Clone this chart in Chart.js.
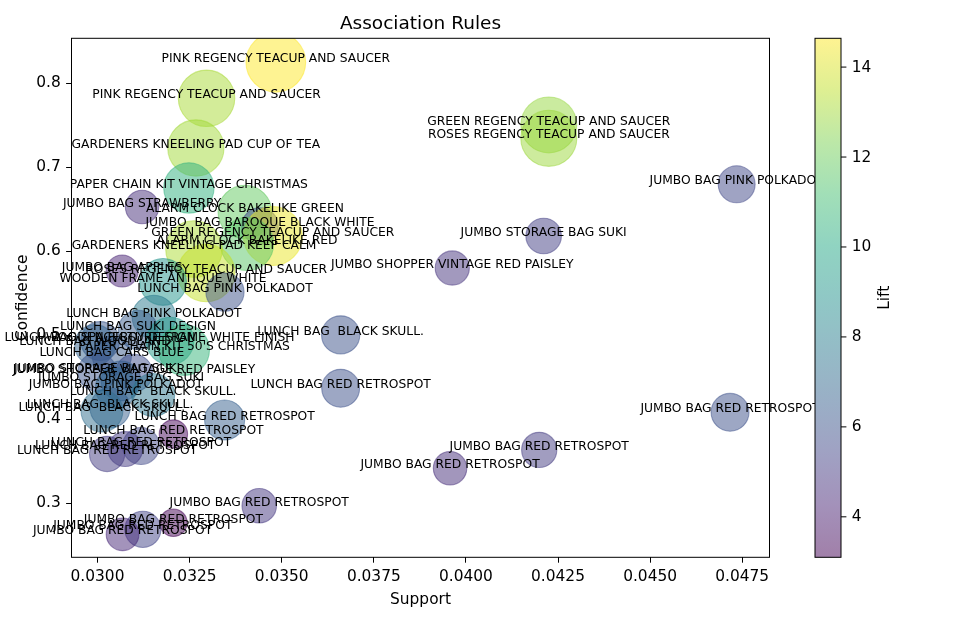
<!DOCTYPE html>
<html><head><meta charset="utf-8">
<script src="https://cdn.jsdelivr.net/npm/chart.js@4.4.1/dist/chart.umd.min.js"></script>
<style>html,body{margin:0;padding:0;background:#fff;}#wrap{width:976px;height:619px;position:relative;}</style>
</head><body><div id="wrap"><canvas id="c" width="976" height="619"></canvas></div>
<script>
// ---- data ----
const ruleLabels = [
 "PINK REGENCY TEACUP AND SAUCER","PINK REGENCY TEACUP AND SAUCER","GARDENERS KNEELING PAD CUP OF TEA",
 "GREEN REGENCY TEACUP AND SAUCER","ROSES REGENCY TEACUP AND SAUCER","JUMBO BAG PINK POLKADOT",
 "PAPER CHAIN KIT VINTAGE CHRISTMAS","JUMBO BAG STRAWBERRY","ALARM CLOCK BAKELIKE GREEN",
 "JUMBO  BAG BAROQUE BLACK WHITE","GREEN REGENCY TEACUP AND SAUCER","ALARM CLOCK BAKELIKE RED",
 "GARDENERS KNEELING PAD KEEP CALM","ROSES REGENCY TEACUP AND SAUCER","JUMBO BAG APPLES",
 "WOODEN FRAME ANTIQUE WHITE","LUNCH BAG PINK POLKADOT","JUMBO STORAGE BAG SUKI",
 "JUMBO SHOPPER VINTAGE RED PAISLEY","LUNCH BAG PINK POLKADOT","LUNCH BAG SUKI DESIGN",
 "LUNCH BAG  BLACK SKULL.","WOODEN PICTURE FRAME WHITE FINISH","LUNCH BAG SPACEBOY DESIGN",
 "LUNCH BAG WOODLAND","PAPER CHAIN KIT 50'S CHRISTMAS","LUNCH BAG CARS BLUE",
 "JUMBO STORAGE BAG SUKI","JUMBO SHOPPER VINTAGE RED PAISLEY","JUMBO STORAGE BAG SUKI",
 "JUMBO BAG PINK POLKADOT","LUNCH BAG RED RETROSPOT","LUNCH BAG  BLACK SKULL.",
 "LUNCH BAG  BLACK SKULL.","LUNCH BAG  BLACK SKULL.","JUMBO BAG RED RETROSPOT",
 "LUNCH BAG RED RETROSPOT","LUNCH BAG RED RETROSPOT","LUNCH BAG RED RETROSPOT",
 "LUNCH BAG RED RETROSPOT","LUNCH BAG RED RETROSPOT","JUMBO BAG RED RETROSPOT",
 "JUMBO BAG RED RETROSPOT","JUMBO BAG RED RETROSPOT","JUMBO BAG RED RETROSPOT",
 "JUMBO BAG RED RETROSPOT","JUMBO BAG RED RETROSPOT"
];
const support = [
 0.03484,0.03296,0.03267,
 0.04225,0.04225,0.04735,
 0.03248,0.03121,0.03400,
 0.03441,0.03476,0.03406,
 0.03262,0.03295,0.03067,
 0.03178,0.03346,0.04211,
 0.03963,0.03153,0.03110,
 0.03660,0.03197,0.03007,
 0.02993,0.03235,0.03039,
 0.02999,0.03099,0.03064,
 0.03050,0.03660,0.03151,
 0.03034,0.03012,0.04717,
 0.03345,0.03206,0.03118,
 0.03075,0.03026,0.04199,
 0.03957,0.03439,0.03206,
 0.03123,0.03068
];
const confidence = [
 0.8250,0.7821,0.7230,
 0.7504,0.7345,0.6798,
 0.6754,0.6527,0.6468,
 0.6301,0.6182,0.6087,
 0.6027,0.5742,0.5765,
 0.5635,0.5515,0.6182,
 0.5801,0.5218,0.5063,
 0.5004,0.4932,0.4932,
 0.4885,0.4825,0.4754,
 0.4563,0.4551,0.4456,
 0.4373,0.4369,0.4289,
 0.4135,0.4099,0.4083,
 0.3992,0.3825,0.3682,
 0.3646,0.3587,0.3635,
 0.3417,0.2971,0.2769,
 0.2690,0.2631
];
const lift = [
 14.64,13.1,13.0,
 12.8,12.9,5.6,
 10.4,4.6,11.8,
 5.5,14.3,11.6,
 13.2,13.6,4.2,
 9.0,6.0,5.2,
 4.8,7.8,6.4,
 6.0,9.3,6.2,
 6.8,10.6,6.3,
 6.1,5.7,6.5,
 6.9,5.9,7.6,
 6.6,7.2,5.9,
 6.6,3.3,5.6,
 5.0,5.1,5.1,
 4.6,4.9,3.10,
 5.4,4.4
];
const xTicks = [0.0300,0.0325,0.0350,0.0375,0.0400,0.0425,0.0450,0.0475];
const yTicks = [0.3,0.4,0.5,0.6,0.7,0.8];
const liftTicks = [4,6,8,10,12,14];
const xRange = [0.029294, 0.048241];
const yRange = [0.23571, 0.85357];

// ---- styling ----
const FONT = "'DejaVu Sans', sans-serif";
const VIRIDIS = [[68,1,84],[72,36,117],[65,68,135],[53,95,141],[42,120,142],[33,145,140],[34,168,132],[68,191,112],[122,209,81],[189,223,38],[253,231,37]];
function viridis(t){t=Math.max(0,Math.min(1,t));const s=t*10;const i=Math.min(9,Math.floor(s));const f=s-i;const a=VIRIDIS[i],b=VIRIDIS[i+1];return [0,1,2].map(k=>Math.round(a[k]+(b[k]-a[k])*f));}
const lmin = Math.min(...lift), lmax = Math.max(...lift);
function liftColor(v,alpha){const c=viridis((v-lmin)/(lmax-lmin));return `rgba(${c[0]},${c[1]},${c[2]},${alpha})`;}

const points = support.map((s,i)=>({x:s,y:confidence[i],r:7.8*Math.sqrt(lift[i]),lift:lift[i],label:ruleLabels[i]}));

const overlay = {
  id:'overlay',
  afterDatasetsDraw(chart){
    const {ctx, chartArea:a, scales:{x,y}} = chart;
    ctx.save();
    ctx.strokeStyle='#000'; ctx.lineWidth=1;
    ctx.strokeRect(a.left, a.top, a.right-a.left, a.bottom-a.top);
    ctx.fillStyle='#000';
    ctx.font=`12.3px ${FONT}`; ctx.textAlign='center'; ctx.textBaseline='alphabetic';
    points.forEach(p=>ctx.fillText(p.label, x.getPixelForValue(p.x), y.getPixelForValue(p.y)));
    // title and axis titles
    ctx.font=`18.5px ${FONT}`;
    ctx.fillText('Association Rules',(a.left+a.right)/2,29);
    ctx.font=`15.4px ${FONT}`;
    ctx.fillText('Support',(a.left+a.right)/2,604);
    ctx.save(); ctx.translate(27,(a.top+a.bottom)/2); ctx.rotate(-Math.PI/2);
    ctx.fillText('Confidence',0,0); ctx.restore();
    ctx.restore();
  },
  afterDraw(chart){
    const {ctx, chartArea:a} = chart;
    const L=815, R=841, T=a.top, B=a.bottom;
    ctx.save();
    ctx.fillStyle='#fff'; ctx.fillRect(L,T,R-L,B-T);
    const g=ctx.createLinearGradient(0,B,0,T);
    for(let k=0;k<=40;k++){const c=viridis(k/40);g.addColorStop(k/40,`rgba(${c[0]},${c[1]},${c[2]},0.5)`);}
    ctx.fillStyle=g; ctx.fillRect(L,T,R-L,B-T);
    ctx.strokeStyle='#000'; ctx.lineWidth=1; ctx.strokeRect(L,T,R-L,B-T);
    ctx.fillStyle='#000'; ctx.font=`15.4px ${FONT}`; ctx.textAlign='left'; ctx.textBaseline='middle';
    liftTicks.forEach(v=>{
      const yy=B-(v-lmin)/(lmax-lmin)*(B-T);
      ctx.beginPath(); ctx.moveTo(R,yy); ctx.lineTo(R+5.4,yy); ctx.stroke();
      ctx.fillText(String(v),R+10.8,yy+0.5);
    });
    ctx.textAlign='center'; ctx.textBaseline='alphabetic';
    ctx.translate(889,(T+B)/2); ctx.rotate(-Math.PI/2); ctx.fillText('Lift',0,0);
    ctx.restore();
  }
};

new Chart(document.getElementById('c'),{
  type:'bubble',
  data:{datasets:[{
    data:points,
    backgroundColor:c=>c.raw?liftColor(c.raw.lift,0.5):'rgba(0,0,0,0)',
    borderColor:c=>c.raw?liftColor(c.raw.lift,0.5):'rgba(0,0,0,0)',
    borderWidth:1.1,
    clip:0
  }]},
  options:{
    responsive:false, animation:false, devicePixelRatio:1, events:[],
    layout:{padding:{left:0,top:38.3,right:206.5,bottom:0}},
    plugins:{legend:{display:false},tooltip:{enabled:false},title:{display:false}},
    scales:{
      x:{type:'linear',min:xRange[0],max:xRange[1],
        afterBuildTicks:s=>{s.ticks=xTicks.map(v=>({value:v}));},
        afterFit:s=>{s.height=61.7;},
        ticks:{callback:v=>Number(v).toFixed(4),font:{family:FONT,size:15.4},color:'#000',padding:5.4,maxRotation:0,autoSkip:false},
        grid:{drawOnChartArea:false,drawTicks:true,tickLength:5.4,color:'#000',lineWidth:1},
        border:{display:false}},
      y:{type:'linear',min:yRange[0],max:yRange[1],
        afterBuildTicks:s=>{s.ticks=yTicks.map(v=>({value:v}));},
        afterFit:s=>{s.width=71.5;},
        ticks:{callback:v=>Number(v).toFixed(1),font:{family:FONT,size:15.4},color:'#000',padding:5.4,autoSkip:false},
        grid:{drawOnChartArea:false,drawTicks:true,tickLength:5.4,color:'#000',lineWidth:1},
        border:{display:false}}
    }
  },
  plugins:[overlay]
});
</script></body></html>
